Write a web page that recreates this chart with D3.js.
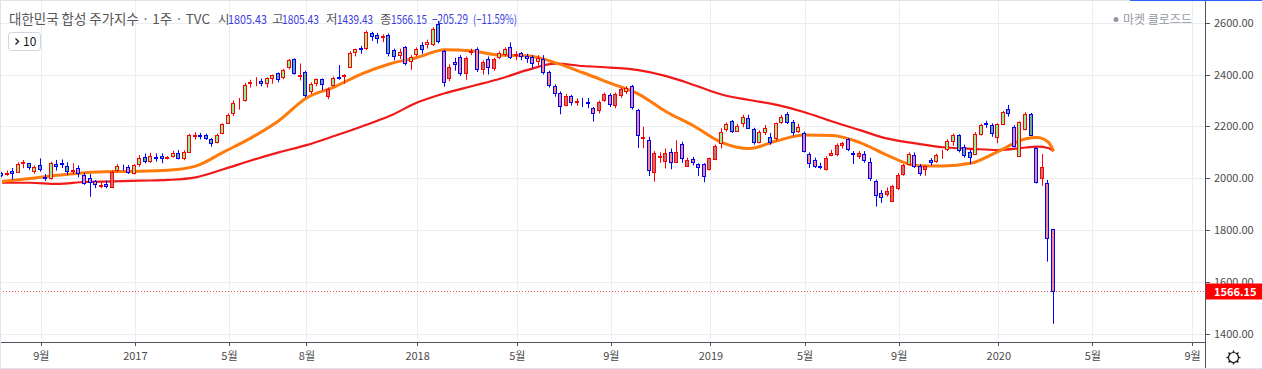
<!DOCTYPE html>
<html><head><meta charset="utf-8">
<script src="https://cdn.jsdelivr.net/npm/d3@7"></script>
<style>
body{margin:0;background:#fff;overflow:hidden;}
svg{display:block;font-family:'Noto Sans CJK KR','Noto Sans',Roboto,sans-serif;}
</style>
</head><body>
<svg id="chart" width="1262" height="369"></svg>
<script>
// ---- data (weekly candles, index 0 = week of 2016-07-18) ----
const opens = [2021,2017,2029,2026,2060,2058,2030,2050,2004,2000, 2054,2059,2049,2030,2039,2013,2000,1988,1972,1978, 1966,2032,2040,2042,2022,2054,2081,2068,2083,2087, 2080,2086,2099,2077,2103,2165,2168,2167,2150,2141, 2176,2215,2251,2293,2302,2366,2378,2375,2369,2385, 2405,2389,2430,2459,2396,2411,2338,2366,2382,2317, 2360,2392,2393,2430,2488,2502,2501,2561,2553,2546, 2553,2495,2475,2505,2452,2478,2515,2517,2517,2594, 2491,2386,2448,2469,2405,2488,2497,2422,2460,2427, 2469,2478,2508,2475,2482,2470,2469,2452,2459,2409, 2357,2328,2283,2317,2296,2295,2295,2270,2263,2302, 2321,2283,2321,2337,2356,2263,2155,2148,2026,2082, 2068,2100,2063,2131,2049,2073,2054,2054,2035,2073, 2135,2189,2221,2184,2212,2234,2190,2141,2180,2161, 2154,2218,2248,2218,2184,2173,2093,2071,2048,2035, 2090,2093,2130,2150,2096,2086,2094,2064,1991,1942, 1940,1914,1962,2015,2055,2090,2048,2035,2071,2068, 2100,2113,2144,2167,2120,2103,2094,2172,2213,2206, 2158,2209,2266,2197,2087,2189,2248,2116,2000,1981, 1805.43];
const highs = [2024,2030,2040,2062,2071,2060,2050,2077,2017,2064, 2071,2073,2062,2058,2050,2022,2017,1993,1985,1991, 2030,2055,2053,2051,2055,2090,2096,2099,2096,2096, 2086,2106,2109,2108,2172,2178,2175,2172,2155,2172, 2212,2250,2300,2310,2368,2380,2390,2385,2390,2400, 2408,2422,2460,2462,2443,2415,2370,2385,2385,2350, 2392,2437,2402,2490,2500,2510,2570,2565,2560,2555, 2558,2500,2500,2510,2475,2505,2525,2535,2582,2607, 2495,2440,2465,2475,2470,2500,2505,2455,2470,2465, 2490,2505,2524,2490,2487,2480,2475,2475,2475,2415, 2362,2335,2325,2322,2308,2310,2310,2275,2300,2330, 2328,2330,2350,2355,2360,2268,2199,2160,2105,2100, 2115,2115,2147,2141,2080,2083,2058,2058,2080,2130, 2193,2215,2225,2210,2245,2245,2195,2185,2206,2175, 2215,2245,2255,2225,2210,2180,2100,2080,2060,2085, 2110,2135,2140,2155,2105,2105,2105,2080,1995,1955, 1965,1975,2020,2055,2100,2100,2055,2050,2078,2095, 2110,2150,2172,2170,2130,2110,2178,2210,2222,2212, 2212,2260,2283,2205,2220,2255,2252,2120,2094,1994, 1805.43];
const lows = [2005,2010,1995,2022,2039,2032,2018,2026,1990,1995, 2030,2040,2013,2017,2004,1975,1929,1962,1962,1962, 1962,2025,2030,2017,2015,2045,2058,2060,2064,2058, 2073,2080,2073,2070,2098,2150,2150,2148,2122,2135, 2170,2210,2240,2265,2296,2350,2355,2355,2350,2365, 2370,2382,2420,2400,2377,2312,2325,2355,2340,2305, 2355,2380,2365,2425,2470,2480,2495,2530,2520,2525, 2470,2455,2460,2435,2418,2470,2480,2500,2510,2520, 2353,2375,2415,2395,2380,2475,2410,2400,2400,2415, 2460,2470,2460,2455,2455,2445,2425,2435,2400,2350, 2315,2247,2278,2280,2280,2275,2270,2219,2250,2295, 2275,2270,2310,2325,2265,2117,2116,2009,1987,2060, 2038,2035,2060,2060,2045,2050,2009,1985,2030,2070, 2115,2180,2175,2180,2197,2190,2130,2135,2167,2130, 2145,2210,2210,2165,2175,2100,2040,2040,2035,2030, 2085,2085,2115,2105,2055,2075,2060,1990,1891,1905, 1930,1910,1955,2010,2050,2040,2010,2010,2050,2060, 2075,2105,2125,2100,2080,2055,2090,2165,2195,2160, 2135,2205,2238,2120,2085,2185,2165,1980,1971,1679, 1439.43];
const closes = [2012,2020,2022,2055,2063,2043,2042,2037,2001,2058, 2048,2057,2027,2033,2019,1981,1987,1978,1975,1970, 2026,2048,2038,2026,2051,2077,2068,2086,2080,2077, 2082,2099,2077,2103,2167,2168,2163,2155,2135,2167, 2208,2244,2292,2296,2360,2373,2381,2366,2385,2398, 2382,2418,2456,2405,2399,2321,2362,2382,2362,2343, 2388,2388,2398,2484,2497,2500,2565,2549,2540,2549, 2482,2472,2488,2443,2467,2498,2500,2527,2576,2530, 2373,2430,2442,2405,2463,2491,2422,2450,2430,2459, 2482,2499,2469,2478,2470,2465,2443,2465,2409,2360, 2328,2280,2319,2293,2298,2293,2292,2251,2296,2325, 2287,2325,2343,2347,2274,2167,2158,2032,2096,2087, 2099,2063,2100,2077,2071,2062,2045,2010,2077,2126, 2180,2210,2183,2202,2238,2195,2141,2180,2193,2141, 2212,2235,2218,2180,2197,2107,2058,2048,2045,2077, 2099,2128,2135,2112,2094,2099,2071,2000,1936,1927, 1953,1971,2013,2051,2094,2048,2019,2048,2063,2090, 2103,2144,2167,2110,2090,2084,2172,2206,2210,2176, 2209,2255,2251,2125,2216,2248,2167,1987,2042,1771.44, 1566.15];

// moving averages (bar index -> value)
const maIndex = [0,5,10,15,20,25,30,35,40,45,50,55,60,65,70,75,80,85,90,95,100,105,110,115,120,125,130,135,140,145,150,155,160,165,170,175,180,185,187,189,190];
const maFast = [1988,1999,2012,2022,2026,2027,2031,2047,2101,2156,2222,2310,2352,2403,2441,2466,2496,2491,2475,2473,2445,2407,2366,2325,2257,2202,2139,2115,2145,2167,2165,2138,2089,2050,2048,2058,2104,2153,2157,2140,2105];
const maSlow = [1983,1983,1979,1986,1988,1991,1994,2004,2035,2069,2100,2128,2163,2200,2240,2292,2328,2356,2384,2418,2442,2433,2427,2417,2394,2360,2323,2302,2283,2255,2219,2186,2153,2135,2120,2114,2109,2119,2122,2117,2105];

const timeTickIndex = [7,24,41,55,75,93,110,128,145,162,180,197,215];
const timeTickLabels = ["9월","2017","5월","8월","2018","5월","9월","2019","5월","9월","2020","5월","9월"];
const priceTicks = [1400,1600,1800,2000,2200,2400,2600];

const titleText = "대한민국 합성 주가지수 · 1주 · TVC";
const legendLabels = ["시","고","저","종"];
const legendValues = ["1805.43","1805.43","1439.43","1566.15"];
const changeText = ["−205.29","(−11.59%)"];

// ---- layout ----
const W = 1262, H = 369;
const plotR = 1205, plotB = 342;
const svg = d3.select("#chart");

const x = d3.scaleLinear().domain([0, 215]).range([2, 2 + 215 * 5.535]);
const y = d3.scaleLinear().domain([1400, 2600]).range([334.0, 22.7]);
const fastAt = d3.scaleLinear().domain(maIndex).range(maFast);

const gridColor = "#e9eef3";
const textColor = "#4b4b4b";

svg.append("rect").attr("x",0).attr("y",0).attr("width",W).attr("height",H).attr("fill","#fff");

// grid
const grid = svg.append("g");
grid.selectAll("line.h").data(priceTicks).join("line")
  .attr("x1",0).attr("x2",plotR).attr("y1",d=>Math.round(y(d))+0.5).attr("y2",d=>Math.round(y(d))+0.5)
  .attr("stroke",gridColor).attr("stroke-width",1);
grid.selectAll("line.v").data(timeTickIndex).join("line")
  .attr("x1",d=>Math.round(x(d))+0.5).attr("x2",d=>Math.round(x(d))+0.5).attr("y1",0).attr("y2",plotB)
  .attr("stroke",gridColor).attr("stroke-width",1);

svg.append("clipPath").attr("id","plotclip").append("rect").attr("x",0).attr("y",0).attr("width",plotR).attr("height",plotB);
const plot = svg.append("g").attr("clip-path","url(#plotclip)");

// moving average lines
const line = d3.line().x(d=>x(d[0])).y(d=>y(d[1])).curve(d3.curveMonotoneX);
plot.append("path").datum(maIndex.map((d,i)=>[d,maSlow[i]]))
  .attr("d",line).attr("fill","none").attr("stroke","#f01818").attr("stroke-width",2.2).attr("stroke-linejoin","round");
plot.append("path").datum(maIndex.map((d,i)=>[d,maFast[i]]))
  .attr("d",line).attr("fill","none").attr("stroke","#ff7a0a").attr("stroke-width",3).attr("stroke-linejoin","round");

// last price dotted line
const lastClose = closes[closes.length-1];
plot.append("line").attr("x1",0).attr("x2",plotR)
  .attr("y1",Math.round(y(lastClose))+0.5).attr("y2",Math.round(y(lastClose))+0.5)
  .attr("stroke","#ef5350").attr("stroke-width",1).attr("stroke-dasharray","1,2");

// candles
const candles = opens.map((o,i)=>({i,o,h:highs[i],l:lows[i],c:closes[i]}));
const upStroke = "#ff0000", dnStroke = "#0000ff";
function fillOf(d){
  const above = d.c > fastAt(d.i);
  const up = d.c >= d.o;
  if (above) return up ? "#92ee92" : "#74aa74";
  return up ? "#c47474" : "#f58787";
}
const cand = plot.append("g").selectAll("g").data(candles).join("g");
cand.append("line")
  .attr("x1",d=>Math.round(x(d.i))-0.5).attr("x2",d=>Math.round(x(d.i))-0.5)
  .attr("y1",d=>y(d.h)).attr("y2",d=>y(d.l))
  .attr("stroke",d=>d.c>=d.o?upStroke:dnStroke).attr("stroke-width",1);
cand.append("rect")
  .attr("x",d=>Math.round(x(d.i))-2.5)
  .attr("width",3)
  .attr("y",d=>Math.round(y(Math.max(d.o,d.c)))+0.5)
  .attr("height",d=>Math.max(0, Math.round(y(Math.min(d.o,d.c))) - Math.round(y(Math.max(d.o,d.c)))))
  .attr("fill",d=>fillOf(d))
  .attr("stroke",d=>d.c>=d.o?upStroke:dnStroke).attr("stroke-width",1);

// right price axis
svg.append("line").attr("x1",plotR+0.5).attr("x2",plotR+0.5).attr("y1",0).attr("y2",H).attr("stroke","#50535e").attr("stroke-width",1);
const ra = svg.append("g");
ra.selectAll("line").data(priceTicks).join("line")
  .attr("x1",plotR).attr("x2",plotR+5).attr("y1",d=>Math.round(y(d))+0.5).attr("y2",d=>Math.round(y(d))+0.5)
  .attr("stroke","#50535e");
ra.selectAll("text").data(priceTicks).join("text")
  .attr("x",plotR+9).attr("y",d=>y(d)+4).attr("font-size",11).attr("fill",textColor)
  .text(d=>d3.format(".2f")(d));

// last price label (covers part of the 1600 label as in the original)
svg.append("rect").attr("x",plotR+1).attr("y",Math.round(y(lastClose))-7.5).attr("width",W-plotR-1).attr("height",16).attr("fill","#ff0000");
svg.append("text").attr("x",plotR+9).attr("y",Math.round(y(lastClose))+4.5).attr("font-size",11).attr("font-weight","bold").attr("fill","#fff")
  .text(d3.format(".2f")(lastClose));

// bottom time axis
svg.append("line").attr("x1",0).attr("x2",plotR).attr("y1",plotB+0.5).attr("y2",plotB+0.5).attr("stroke","#50535e");
const ba = svg.append("g");
ba.selectAll("line").data(timeTickIndex).join("line")
  .attr("x1",d=>Math.round(x(d))+0.5).attr("x2",d=>Math.round(x(d))+0.5).attr("y1",plotB).attr("y2",plotB+4)
  .attr("stroke","#50535e");
ba.selectAll("text").data(timeTickIndex).join("text")
  .attr("x",d=>x(d)+0.5).attr("y",360).attr("text-anchor","middle").attr("font-size",11).attr("fill",textColor)
  .text((d,i)=>timeTickLabels[i]);

// settings gear
const gear = svg.append("g").attr("transform","translate(1233.5,357.5)");
gear.append("circle").attr("r",5).attr("fill","none").attr("stroke","#131722").attr("stroke-width",1.2);
d3.range(8).forEach(k=>{
  const a = k*Math.PI/4;
  gear.append("line").attr("x1",Math.cos(a)*5).attr("y1",Math.sin(a)*5).attr("x2",Math.cos(a)*7).attr("y2",Math.sin(a)*7)
    .attr("stroke","#131722").attr("stroke-width",1.4);
});

// header legend
const hdr = svg.append("g");
hdr.append("text").attr("x",9).attr("y",24).attr("font-size",13.2).attr("fill","#555")
  .attr("textLength",201).attr("lengthAdjust","spacingAndGlyphs").text(titleText);
const valBlue = "#3c3cdc";
const labelX = [218,272,326,380];
const valX = [[228,39],[282,37],[337,36],[391,36]];
hdr.selectAll("text.l").data(legendLabels).join("text").attr("class","l")
  .attr("x",(d,i)=>labelX[i]).attr("y",24).attr("font-size",12.5).attr("fill","#555").text(d=>d);
hdr.selectAll("text.v").data(legendValues).join("text").attr("class","v")
  .attr("x",(d,i)=>valX[i][0]).attr("y",24).attr("font-size",12.5).attr("fill",valBlue)
  .attr("textLength",(d,i)=>valX[i][1]).attr("lengthAdjust","spacingAndGlyphs").text(d=>d);
const chgPos = [[432,36],[473,44]];
hdr.selectAll("text.c").data(changeText).join("text").attr("class","c")
  .attr("x",(d,i)=>chgPos[i][0]).attr("y",24).attr("font-size",12.5).attr("fill",valBlue)
  .attr("textLength",(d,i)=>chgPos[i][1]).attr("lengthAdjust","spacingAndGlyphs").text(d=>d);

// collapse button "> 10"
svg.append("rect").attr("x",8.5).attr("y",32.5).attr("width",32).attr("height",18).attr("rx",3)
  .attr("fill","#fff").attr("stroke","#d1d4dc");
svg.append("path").attr("d","M15.5,38.5 L18.5,41.5 L15.5,44.5").attr("fill","none").attr("stroke","#131722").attr("stroke-width",1.3);
svg.append("text").attr("x",23).attr("y",46).attr("font-size",12).attr("fill","#131722").text("10");

// market closed marker
svg.append("circle").attr("cx",1116).attr("cy",19.5).attr("r",2.5).attr("fill","#9598a1");
svg.append("text").attr("x",1123).attr("y",24).attr("font-size",12).attr("fill","#9598a1").text("마켓 클로즈드");

// outer borders
svg.append("line").attr("x1",0).attr("x2",W).attr("y1",H-0.5).attr("y2",H-0.5).attr("stroke","#e0e3eb");
svg.append("line").attr("x1",0.5).attr("x2",0.5).attr("y1",0).attr("y2",H).attr("stroke","#e0e3eb");
svg.append("line").attr("x1",0).attr("x2",1130).attr("y1",0.5).attr("y2",0.5).attr("stroke","#e0e3eb");
svg.append("line").attr("x1",1130).attr("x2",W).attr("y1",0.5).attr("y2",0.5).attr("stroke","#2962ff");
</script>
</body></html>
